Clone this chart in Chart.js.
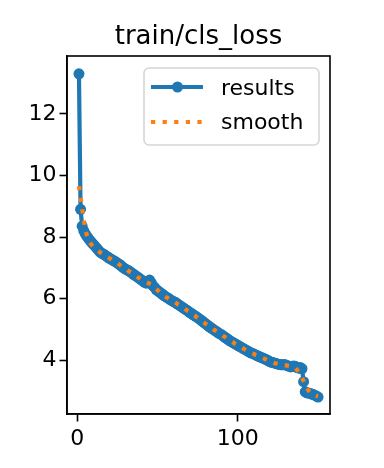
<!DOCTYPE html>
<html>
<head>
<meta charset="utf-8">
<script src="https://cdn.jsdelivr.net/npm/chart.js@4/dist/chart.umd.min.js"></script>
<style>
  html, body { margin: 0; padding: 0; background: #fff; }
  canvas { display: block; }
</style>
</head>
<body>
<canvas id="chart" width="384" height="468"></canvas>
<script>
// train/cls_loss per epoch
const epochs = [
  1, 2, 3, 4, 5, 6, 7, 8, 9, 10, 11, 12, 13, 14, 15, 16, 17, 18, 19, 20,
  21, 22, 23, 24, 25, 26, 27, 28, 29, 30, 31, 32, 33, 34, 35, 36, 37, 38, 39, 40,
  41, 42, 43, 44, 45, 46, 47, 48, 49, 50, 51, 52, 53, 54, 55, 56, 57, 58, 59, 60,
  61, 62, 63, 64, 65, 66, 67, 68, 69, 70, 71, 72, 73, 74, 75, 76, 77, 78, 79, 80,
  81, 82, 83, 84, 85, 86, 87, 88, 89, 90, 91, 92, 93, 94, 95, 96, 97, 98, 99, 100,
  101, 102, 103, 104, 105, 106, 107, 108, 109, 110, 111, 112, 113, 114, 115, 116, 117, 118, 119, 120,
  121, 122, 123, 124, 125, 126, 127, 128, 129, 130, 131, 132, 133, 134, 135, 136, 137, 138, 139, 140,
  141, 142, 143, 144, 145, 146, 147, 148, 149, 150
];

const results = [
  13.3, 8.9, 8.35, 8.2, 8.1, 8.02, 7.95, 7.88, 7.82, 7.76,
  7.7, 7.64, 7.58, 7.52, 7.48, 7.45, 7.42, 7.38, 7.35, 7.31,
  7.28, 7.25, 7.22, 7.19, 7.15, 7.12, 7.08, 7.03, 6.99, 6.96,
  6.93, 6.9, 6.87, 6.83, 6.79, 6.75, 6.72, 6.68, 6.64, 6.6,
  6.57, 6.53, 6.5, 6.52, 6.6, 6.52, 6.42, 6.37, 6.3, 6.26,
  6.22, 6.18, 6.14, 6.1, 6.06, 6.03, 6.0, 5.96, 5.93, 5.9,
  5.88, 5.84, 5.8, 5.77, 5.73, 5.7, 5.66, 5.63, 5.59, 5.55,
  5.52, 5.48, 5.45, 5.41, 5.38, 5.34, 5.3, 5.26, 5.22, 5.18,
  5.14, 5.1, 5.06, 5.02, 4.99, 4.95, 4.92, 4.88, 4.85, 4.82,
  4.78, 4.74, 4.71, 4.67, 4.63, 4.6, 4.57, 4.54, 4.51, 4.48,
  4.45, 4.42, 4.39, 4.36, 4.33, 4.3, 4.27, 4.24, 4.22, 4.2,
  4.17, 4.15, 4.12, 4.1, 4.08, 4.06, 4.03, 4.01, 3.98, 3.95,
  3.93, 3.92, 3.9, 3.89, 3.87, 3.86, 3.85, 3.85, 3.86, 3.84,
  3.82, 3.8, 3.78, 3.8, 3.81, 3.79, 3.76, 3.74, 3.76, 3.72,
  3.3, 2.97, 2.94, 2.93, 2.92, 2.9, 2.88, 2.86, 2.83, 2.8
];

const smooth = [
  9.65, 9.3, 8.92, 8.56, 8.25, 8.04, 7.9, 7.81, 7.74, 7.69,
  7.64, 7.59, 7.55, 7.51, 7.47, 7.44, 7.41, 7.38, 7.34, 7.31,
  7.28, 7.25, 7.22, 7.18, 7.15, 7.11, 7.07, 7.03, 6.99, 6.96,
  6.93, 6.89, 6.86, 6.83, 6.79, 6.75, 6.72, 6.68, 6.65, 6.61,
  6.58, 6.55, 6.53, 6.51, 6.48, 6.45, 6.41, 6.36, 6.32, 6.27,
  6.23, 6.18, 6.14, 6.1, 6.06, 6.03, 5.99, 5.96, 5.93, 5.9,
  5.87, 5.84, 5.8, 5.77, 5.73, 5.7, 5.66, 5.63, 5.59, 5.56,
  5.52, 5.48, 5.45, 5.41, 5.38, 5.34, 5.3, 5.26, 5.22, 5.18,
  5.14, 5.1, 5.07, 5.03, 4.99, 4.96, 4.92, 4.89, 4.85, 4.82,
  4.78, 4.75, 4.71, 4.68, 4.64, 4.61, 4.58, 4.54, 4.51, 4.48,
  4.45, 4.42, 4.39, 4.36, 4.33, 4.3, 4.27, 4.25, 4.22, 4.2,
  4.17, 4.15, 4.12, 4.1, 4.08, 4.06, 4.03, 4.01, 3.98, 3.96,
  3.94, 3.92, 3.9, 3.89, 3.88, 3.86, 3.85, 3.84, 3.84, 3.83,
  3.82, 3.81, 3.8, 3.79, 3.78, 3.74, 3.68, 3.6, 3.52, 3.43,
  3.32, 3.2, 3.1, 3.02, 2.96, 2.92, 2.89, 2.86, 2.84, 2.83
];

const xTicks = [0, 100];
const yTicks = [4, 6, 8, 10, 12];
const seriesNames = ['results', 'smooth'];
const chartTitle = 'train/cls_loss';

const BLUE = '#1f77b4';
const ORANGE = '#ff7f0e';
const FONT = '"DejaVu Sans", sans-serif';

// matplotlib-like frame, title and legend box
const decorations = {
  id: 'decorations',
  afterDraw(chart) {
    const { ctx, chartArea: a } = chart;
    ctx.save();
    ctx.strokeStyle = '#000';
    ctx.lineWidth = 1.6;
    ctx.strokeRect(a.left, a.top, a.right - a.left, a.bottom - a.top);

    ctx.fillStyle = '#000';
    ctx.font = '26px ' + FONT;
    ctx.textAlign = 'center';
    ctx.textBaseline = 'alphabetic';
    ctx.fillText(chartTitle, (a.left + a.right) / 2, 43.5);

    // legend
    const bx = 144, by = 68, bw = 175, bh = 77, r = 5;
    ctx.beginPath();
    ctx.roundRect(bx, by, bw, bh, r);
    ctx.fillStyle = 'rgba(255,255,255,0.8)';
    ctx.fill();
    ctx.strokeStyle = '#d6d6d6';
    ctx.lineWidth = 1.6;
    ctx.stroke();

    ctx.lineWidth = 4.2;
    ctx.strokeStyle = BLUE;
    ctx.beginPath();
    ctx.moveTo(151, 87);
    ctx.lineTo(203, 87);
    ctx.stroke();
    ctx.fillStyle = BLUE;
    ctx.beginPath();
    ctx.arc(177.5, 87, 5.5, 0, Math.PI * 2);
    ctx.fill();

    ctx.strokeStyle = ORANGE;
    ctx.setLineDash([4.2, 7.4]);
    ctx.beginPath();
    ctx.moveTo(151, 122);
    ctx.lineTo(203, 122);
    ctx.stroke();
    ctx.setLineDash([]);

    ctx.fillStyle = '#000';
    ctx.font = '22px ' + FONT;
    ctx.textAlign = 'left';
    ctx.fillText(seriesNames[0], 221, 95);
    ctx.fillText(seriesNames[1], 221, 129);
    ctx.restore();
  }
};

const axisCommon = {
  type: 'linear',
  grid: { display: true, drawOnChartArea: false, drawTicks: true, tickLength: 7.5, tickColor: '#000', tickWidth: 1.6 },
  border: { display: true, color: '#000', width: 1.6 },
};

new Chart(document.getElementById('chart'), {
  type: 'line',
  data: {
    labels: epochs,
    datasets: [
      {
        label: seriesNames[1],
        data: smooth,
        borderColor: ORANGE,
        borderWidth: 4.2,
        borderDash: [4.2, 7.4],
        pointRadius: 0,
        fill: false,
        tension: 0,
        order: 1
      },
      {
        label: seriesNames[0],
        data: results,
        borderColor: BLUE,
        backgroundColor: BLUE,
        borderWidth: 4.2,
        pointRadius: 5.5,
        pointBorderWidth: 0,
        pointBackgroundColor: BLUE,
        fill: false,
        tension: 0,
        order: 2
      }
    ]
  },
  options: {
    responsive: false,
    animation: false,
    devicePixelRatio: 1,
    layout: { padding: { left: 0, right: 54, top: 56, bottom: 0 } },
    plugins: {
      legend: { display: false },
      title: { display: false },
      tooltip: { enabled: false }
    },
    scales: {
      x: {
        ...axisCommon,
        min: -6.45,
        max: 157.45,
        afterBuildTicks: (scale) => { scale.ticks = xTicks.map(value => ({ value })); },
        afterFit: (scale) => { scale.height = 54; },
        ticks: { autoSkip: false, maxRotation: 0, color: '#000', padding: 5, font: { family: FONT, size: 22 } }
      },
      y: {
        ...axisCommon,
        min: 2.25,
        max: 13.88,
        afterBuildTicks: (scale) => { scale.ticks = yTicks.map(value => ({ value })); },
        afterFit: (scale) => { scale.width = 67; },
        ticks: { autoSkip: false, color: '#000', padding: 3, font: { family: FONT, size: 22 } }
      }
    }
  },
  plugins: [decorations]
});
</script>
</body>
</html>
